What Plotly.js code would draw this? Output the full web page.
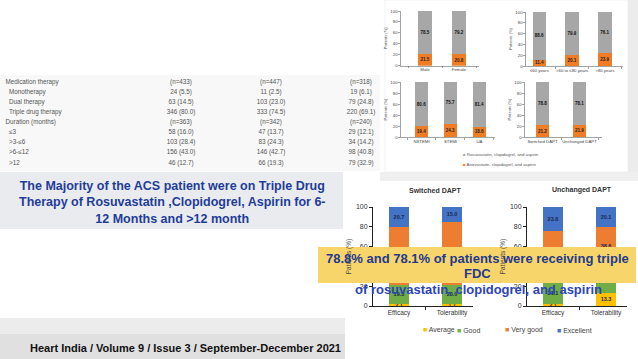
<!DOCTYPE html>
<html><head><meta charset="utf-8">
<script src="https://cdn.plot.ly/plotly-3.0.1.min.js"></script>
<style>html,body{margin:0;padding:0;background:#fff;}#chart{width:638px;height:359px;}</style>
</head><body><div id="chart"></div>
<script>
// ---------- DATA ----------
const tblLabels = ['Medication therapy','\u00a0\u00a0Monotherapy','\u00a0\u00a0Dual therapy','\u00a0\u00a0Triple drug therapy','Duration (months)','\u00a0\u00a0\u22643','\u00a0\u00a0>3-\u22646','\u00a0\u00a0>6-\u226412','\u00a0\u00a0>12'];
const tblColA = ['(n=433)','24 (5.5)','63 (14.5)','346 (80.0)','(n=363)','58 (16.0)','103 (28.4)','156 (43.0)','46 (12.7)'];
const tblColB = ['(n=447)','11 (2.5)','103 (23.0)','333 (74.5)','(n=342)','47 (13.7)','83 (24.3)','146 (42.7)','66 (19.3)'];
const tblColC = ['(n=318)','19 (6.1)','79 (24.8)','220 (69.1)','(n=240)','29 (12.1)','34 (14.2)','98 (40.8)','79 (32.9)'];

const sexCats = ['Male','Female'];
const sexRosu = [78.5, 79.2];
const sexAtor = [21.5, 20.8];
const ageCats = ['\u226460 years','>60 to \u226480 years','>80 years'];
const ageRosu = [88.6, 79.9, 76.1];
const ageAtor = [11.4, 20.1, 23.9];
const acsCats = ['NSTEMI','STEMI','UA'];
const acsRosu = [80.6, 75.7, 81.4];
const acsAtor = [19.4, 24.3, 18.6];
const daptCats = ['Switched DAPT','Unchanged DAPT'];
const daptRosu = [78.8, 78.1];
const daptAtor = [21.2, 21.9];

const outcomeCats = ['Efficacy','Tolerability'];
const swAverage = [2.1, 1.7];
const swGood = [19.3, 20.0];
const swVeryGood = [57.9, 63.3];
const swExcellent = [20.7, 15.0];
const unAverage = [2.1, 13.3];
const unGood = [21.1, 28.0];
const unVeryGood = [53.0, 38.6];
const unExcellent = [23.8, 20.1];

// ---------- HELPERS ----------
const W = 638, H = 359;
const px = x => x / W;
const py = y => 1 - y / H;
const FONT = 'Liberation Sans, Arial, sans-serif';
const GRAY = '#a7a7a7', ORANGE = '#f07d26';
const C_AVG = '#ffc000', C_GOOD = '#70ad47', C_VG = '#ed7d31', C_EXC = '#4472c4';

function bar(xa, ya, cats, vals, color, width, fsize, fcolor) {
  return {
    type: 'bar', x: cats, y: vals, xaxis: xa, yaxis: ya, width: width,
    marker: {color: color, line: {width: 0}},
    text: vals.map(v => v.toFixed(1)), textposition: 'inside', insidetextanchor: 'middle',
    textangle: 0, constraintext: 'none',
    insidetextfont: {family: FONT, size: fsize, color: fcolor, weight: 'bold'},
    showlegend: false, hoverinfo: 'skip'
  };
}

// table drawn as text traces on a hidden grid axis (column index / row index)
const rowIdx = tblLabels.map((_, i) => i);
const tblCols = [tblLabels, tblColA, tblColB, tblColC];
const tblColPos = [-0.95, 1, 2, 3];
const tableTraces = tblCols.map((col, c) => ({
  type: 'scatter', mode: 'text', xaxis: 'x7', yaxis: 'y7',
  x: col.map(() => tblColPos[c]), y: rowIdx, text: col,
  textposition: c === 0 ? 'middle right' : 'middle center',
  textfont: {family: FONT, size: 6.3, color: '#555'},
  showlegend: false, hoverinfo: 'skip', cliponaxis: false
}));

const data = tableTraces.concat([
  bar('x','y', sexCats, sexAtor, ORANGE, 0.41, 4.5, '#222'),
  bar('x','y', sexCats, sexRosu, GRAY, 0.41, 4.5, '#111'),
  bar('x2','y2', ageCats, ageAtor, ORANGE, 0.41, 4.5, '#222'),
  bar('x2','y2', ageCats, ageRosu, GRAY, 0.41, 4.5, '#111'),
  bar('x3','y3', acsCats, acsAtor, ORANGE, 0.45, 4.5, '#222'),
  bar('x3','y3', acsCats, acsRosu, GRAY, 0.45, 4.5, '#111'),
  bar('x4','y4', daptCats, daptAtor, ORANGE, 0.35, 4.5, '#222'),
  bar('x4','y4', daptCats, daptRosu, GRAY, 0.35, 4.5, '#111'),
  bar('x5','y5', outcomeCats, swAverage, C_AVG, 0.38, 5.5, '#1b2a4e'),
  bar('x5','y5', outcomeCats, swGood, C_GOOD, 0.38, 5.5, '#1b2a4e'),
  bar('x5','y5', outcomeCats, swVeryGood, C_VG, 0.38, 5.5, '#1b2a4e'),
  bar('x5','y5', outcomeCats, swExcellent, C_EXC, 0.38, 5.5, '#1b2a4e'),
  bar('x6','y6', outcomeCats, unAverage, C_AVG, 0.38, 5.5, '#1b2a4e'),
  bar('x6','y6', outcomeCats, unGood, C_GOOD, 0.38, 5.5, '#1b2a4e'),
  bar('x6','y6', outcomeCats, unVeryGood, C_VG, 0.38, 5.5, '#1b2a4e'),
  bar('x6','y6', outcomeCats, unExcellent, C_EXC, 0.38, 5.5, '#1b2a4e')
]);

function topX(domain, range, anchor) {
  return {domain: domain, range: range, anchor: anchor, type: 'category', showline: true, linecolor: '#666', linewidth: 0.6,
    ticks: 'outside', tickson: 'boundaries', ticklen: 2, tickcolor: '#666', tickwidth: 0.6, tickangle: 0,
    tickfont: {family: FONT, size: 4.3, color: '#444'}, showgrid: false, zeroline: false, fixedrange: true};
}
function topY(domain, anchor) {
  return {domain: domain, range: [0, 100], anchor: anchor, dtick: 20, showline: true, linecolor: '#666', linewidth: 0.6,
    ticks: 'outside', ticklen: 2, tickcolor: '#666', tickwidth: 0.6,
    tickfont: {family: FONT, size: 4.3, color: '#444'}, showgrid: false, zeroline: false,
    title: {text: 'Patients (%)', font: {family: FONT, size: 4, color: '#555'}, standoff: 2}};
}
function botX(domain, anchor) {
  return {domain: domain, range: [-0.49, 1.4], anchor: anchor, type: 'category', showline: true, linecolor: '#222', linewidth: 1,
    ticks: 'outside', tickson: 'boundaries', ticklen: 3, tickcolor: '#222', tickangle: 0,
    tickfont: {family: FONT, size: 6.5, color: '#333'}, showgrid: false, zeroline: false};
}
function botY(domain, anchor) {
  return {domain: domain, range: [0, 100], anchor: anchor, dtick: 20, showline: true, linecolor: '#222', linewidth: 1,
    ticks: 'outside', ticklen: 3, tickcolor: '#222',
    tickfont: {family: FONT, size: 7, color: '#333'}, showgrid: false, zeroline: false,
    title: {text: 'Patients (%)', font: {family: FONT, size: 6.5, color: '#444'}, standoff: 3}};
}

const ann = (text, x, y, size, color, opts) => Object.assign({
  text: text, x: px(x), y: py(y), xref: 'paper', yref: 'paper', showarrow: false,
  font: {family: FONT, size: size, color: color}, xanchor: 'center', yanchor: 'middle'
}, opts || {});
const sq = c => '<span style="color:' + c + '">\u25A0</span> ';
const bold = (size, color) => ({font: {family: FONT, size: size, color: color, weight: 'bold'}});

const layout = {
  width: W, height: H, margin: {l: 0, r: 0, t: 0, b: 0}, autosize: false,
  paper_bgcolor: '#ffffff', plot_bgcolor: 'rgba(0,0,0,0)', showlegend: false, barmode: 'stack',
  font: {family: FONT},
  xaxis: topX([px(401), px(479.4)], [-0.706, 1.6], 'y'),
  yaxis: topY([py(65.7), py(11)], 'x'),
  xaxis2: topX([px(526), px(622.9)], [-0.41, 2.55], 'y2'),
  yaxis2: topY([py(66), py(12)], 'x2'),
  xaxis3: topX([px(401), px(495.4)], [-0.707, 2.55], 'y3'),
  yaxis3: topY([py(137), py(82)], 'x3'),
  xaxis4: topX([px(525), px(601.7)], [-0.473, 1.6], 'y4'),
  yaxis4: topY([py(137), py(82)], 'x4'),
  xaxis5: botX([px(373), px(473.2)], 'y5'),
  yaxis5: botY([py(306), py(207)], 'x5'),
  xaxis6: botX([px(527), px(627.2)], 'y6'),
  yaxis6: botY([py(306), py(207)], 'x6'),
  xaxis7: {domain: [px(1), px(406)], range: [-1, 3.5], anchor: 'y7', visible: false, fixedrange: true},
  yaxis7: {domain: [py(168), py(77)], range: [8.5, -0.5], anchor: 'x7', visible: false, fixedrange: true},
  shapes: [
    {type: 'rect', xref: 'paper', yref: 'paper', x0: px(628), x1: 1, y0: py(180), y1: 1, fillcolor: '#ececec', line: {width: 0}, layer: 'below'},
    {type: 'rect', xref: 'paper', yref: 'paper', x0: px(380), x1: 1, y0: py(181), y1: py(172), fillcolor: '#efefef', line: {width: 0}, layer: 'below'},
    {type: 'rect', xref: 'paper', yref: 'paper', x0: px(385), x1: px(628), y0: py(172), y1: 1, fillcolor: '#ffffff', line: {width: 0.5, color: '#e6e6e6'}, layer: 'below'},
    {type: 'rect', xref: 'paper', yref: 'paper', x0: 0, x1: px(380), y0: py(171), y1: py(75), fillcolor: '#f8f8f8', line: {width: 0}, layer: 'below'},
    {type: 'rect', xref: 'paper', yref: 'paper', x0: 0, x1: px(343), y0: py(229), y1: py(172), fillcolor: '#e9ebee', line: {width: 0}, layer: 'below'},
    {type: 'rect', xref: 'paper', yref: 'paper', x0: 0, x1: px(345), y0: 0, y1: py(318), fillcolor: '#ececec', line: {width: 0}, layer: 'below'},
    {type: 'rect', xref: 'paper', yref: 'paper', x0: 0, x1: px(345), y0: 0, y1: py(334), fillcolor: '#e0e0e0', line: {width: 0}, layer: 'below'},
    {type: 'rect', xref: 'paper', yref: 'paper', x0: px(318), x1: px(636), y0: py(283), y1: py(247), fillcolor: '#f8d56b', line: {width: 0}, layer: 'above'}
  ],
  annotations: [
    ann('Switched DAPT', 435, 190, 7, '#333', bold(7, '#333')),
    ann('Unchanged DAPT', 582, 190, 7, '#333', bold(7, '#333')),
    ann(sq(C_AVG) + 'Average', 421, 330, 7, '#444', {xanchor: 'left'}),
    ann(sq(C_GOOD) + 'Good', 455, 330, 7, '#444', {xanchor: 'left'}),
    ann(sq(C_VG) + 'Very good', 503, 330, 7, '#444', {xanchor: 'left'}),
    ann(sq(C_EXC) + 'Excellent', 555, 330, 7, '#444', {xanchor: 'left'}),
    ann(sq(GRAY) + 'Rosuvastatin, clopidogrel, and aspirin', 461, 155, 4.3, '#555', {xanchor: 'left'}),
    ann(sq(ORANGE) + 'Atorvastatin, clopidogrel, and aspirin', 461, 165, 4.3, '#555', {xanchor: 'left'}),
    ann('The Majority of the ACS patient were on Triple Drug<br>Therapy of Rosuvastatin ,Clopidogrel, Aspirin for 6-<br>12 Months and >12 month', 172, 202, 12.5, '#1f3c99', bold(12.5, '#1f3c99')),
    ann('78.8% and 78.1% of patients were receiving triple', 477, 258, 13, '#233a8e', bold(13, '#233a8e')),
    ann('FDC', 477, 273, 13, '#233a8e', bold(13, '#233a8e')),
    ann('of rosuvastatin, clopidogrel, and aspirin', 478, 289, 13, '#2c44b8', bold(13, '#2c44b8')),
    ann('Heart India / Volume 9 / Issue 3 / September-December 2021', 28, 348, 11, '#111', Object.assign({xanchor: 'left'}, bold(11, '#111')))
  ]
};

Plotly.newPlot('chart', data, layout, {staticPlot: true, displayModeBar: false});
</script>
</body></html>
